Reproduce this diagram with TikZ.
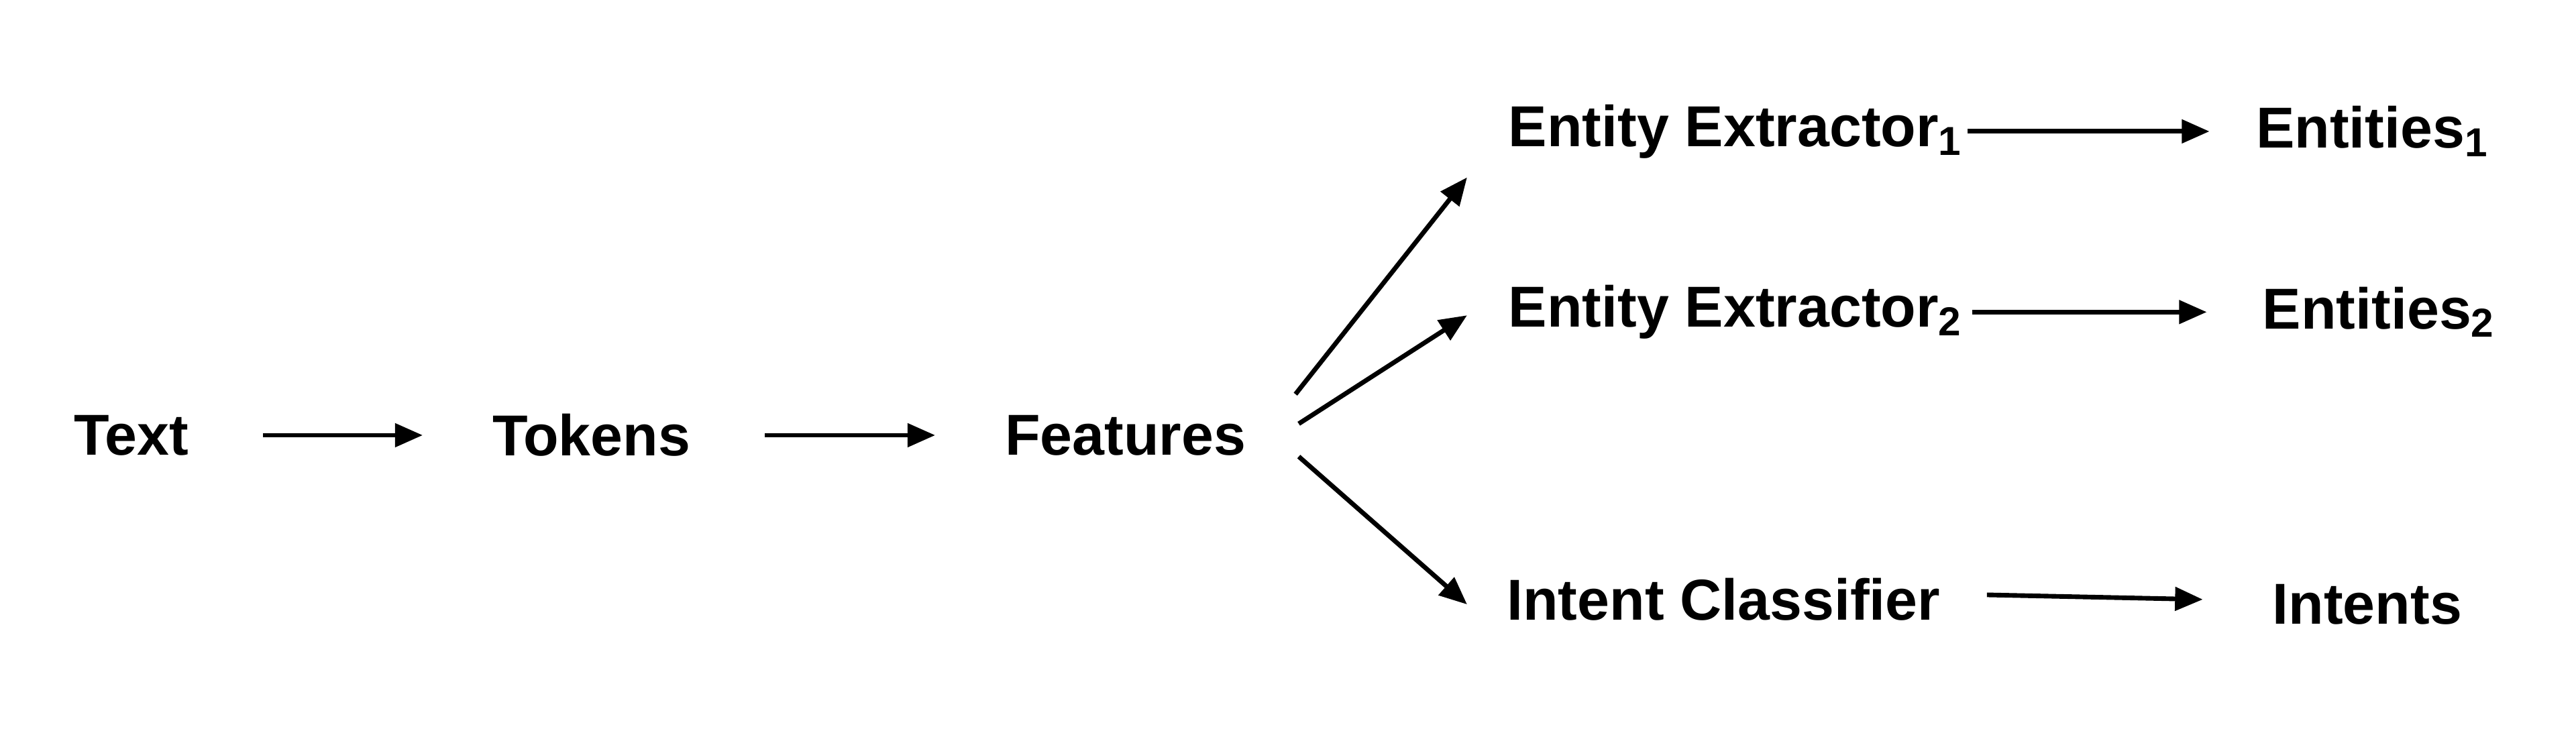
\documentclass[tikz,border=0pt]{standalone}
\usepackage{fontspec}
\setmainfont{Liberation Sans}
\usetikzlibrary{arrows.meta}

\begin{document}
\begin{tikzpicture}[x=0.025cm, y=-0.025cm,
  every node/.style={font=\fontsize{25}{30}\selectfont\bfseries, inner sep=0pt},
  flow/.style={line width=2pt, -{Triangle[length=12pt,width=10pt]}}]
  \useasboundingbox (0,0) rectangle (1568,445);
  % first row
  \node (text) at (80,265) {Text};
  \node (tokens) at (360,265) {Tokens};
  \node (features) at (685,265) {Features};
  % right part
  \node[anchor=west] (ext1) at (918,80) {Entity Extractor\textsubscript{1}};
  \node[anchor=west] (ent1) at (1373,80) {Entities\textsubscript{1}};
  \node[anchor=west] (ext2) at (918,190) {Entity Extractor\textsubscript{2}};
  \node[anchor=west] (ent2) at (1377,190) {Entities\textsubscript{2}};
  \node[anchor=west] (intc) at (917,365) {Intent Classifier};
  \node[anchor=west] (ints) at (1383,368) {Intents};
  % arrows
  \draw[flow] ([xshift=32pt]text.east) -- ([xshift=-30pt]tokens.west);
  \draw[flow] ([xshift=32pt]tokens.east) -- ([xshift=-30pt]features.west);
  \draw[flow] ([shift={(30,-25)}]features.east) -- ([shift={(-25,28)}]ext1.west);
  \draw[flow] ([shift={(32,-7)}]features.east) -- ([shift={(-25,2)}]ext2.west);
  \draw[flow] ([shift={(32,13)}]features.east) -- ([shift={(-24,3)}]intc.west);
  \draw[flow] ([xshift=2pt]ext1.east) -- ([xshift=-20pt]ent1.west);
  \draw[flow] ([xshift=4pt]ext2.east) -- ([xshift=-24pt]ent2.west);
  \draw[flow] ([xshift=20pt,yshift=2]intc.east) -- ([xshift=-30pt]ints.west|-intc.east);
\end{tikzpicture}
\end{document}
